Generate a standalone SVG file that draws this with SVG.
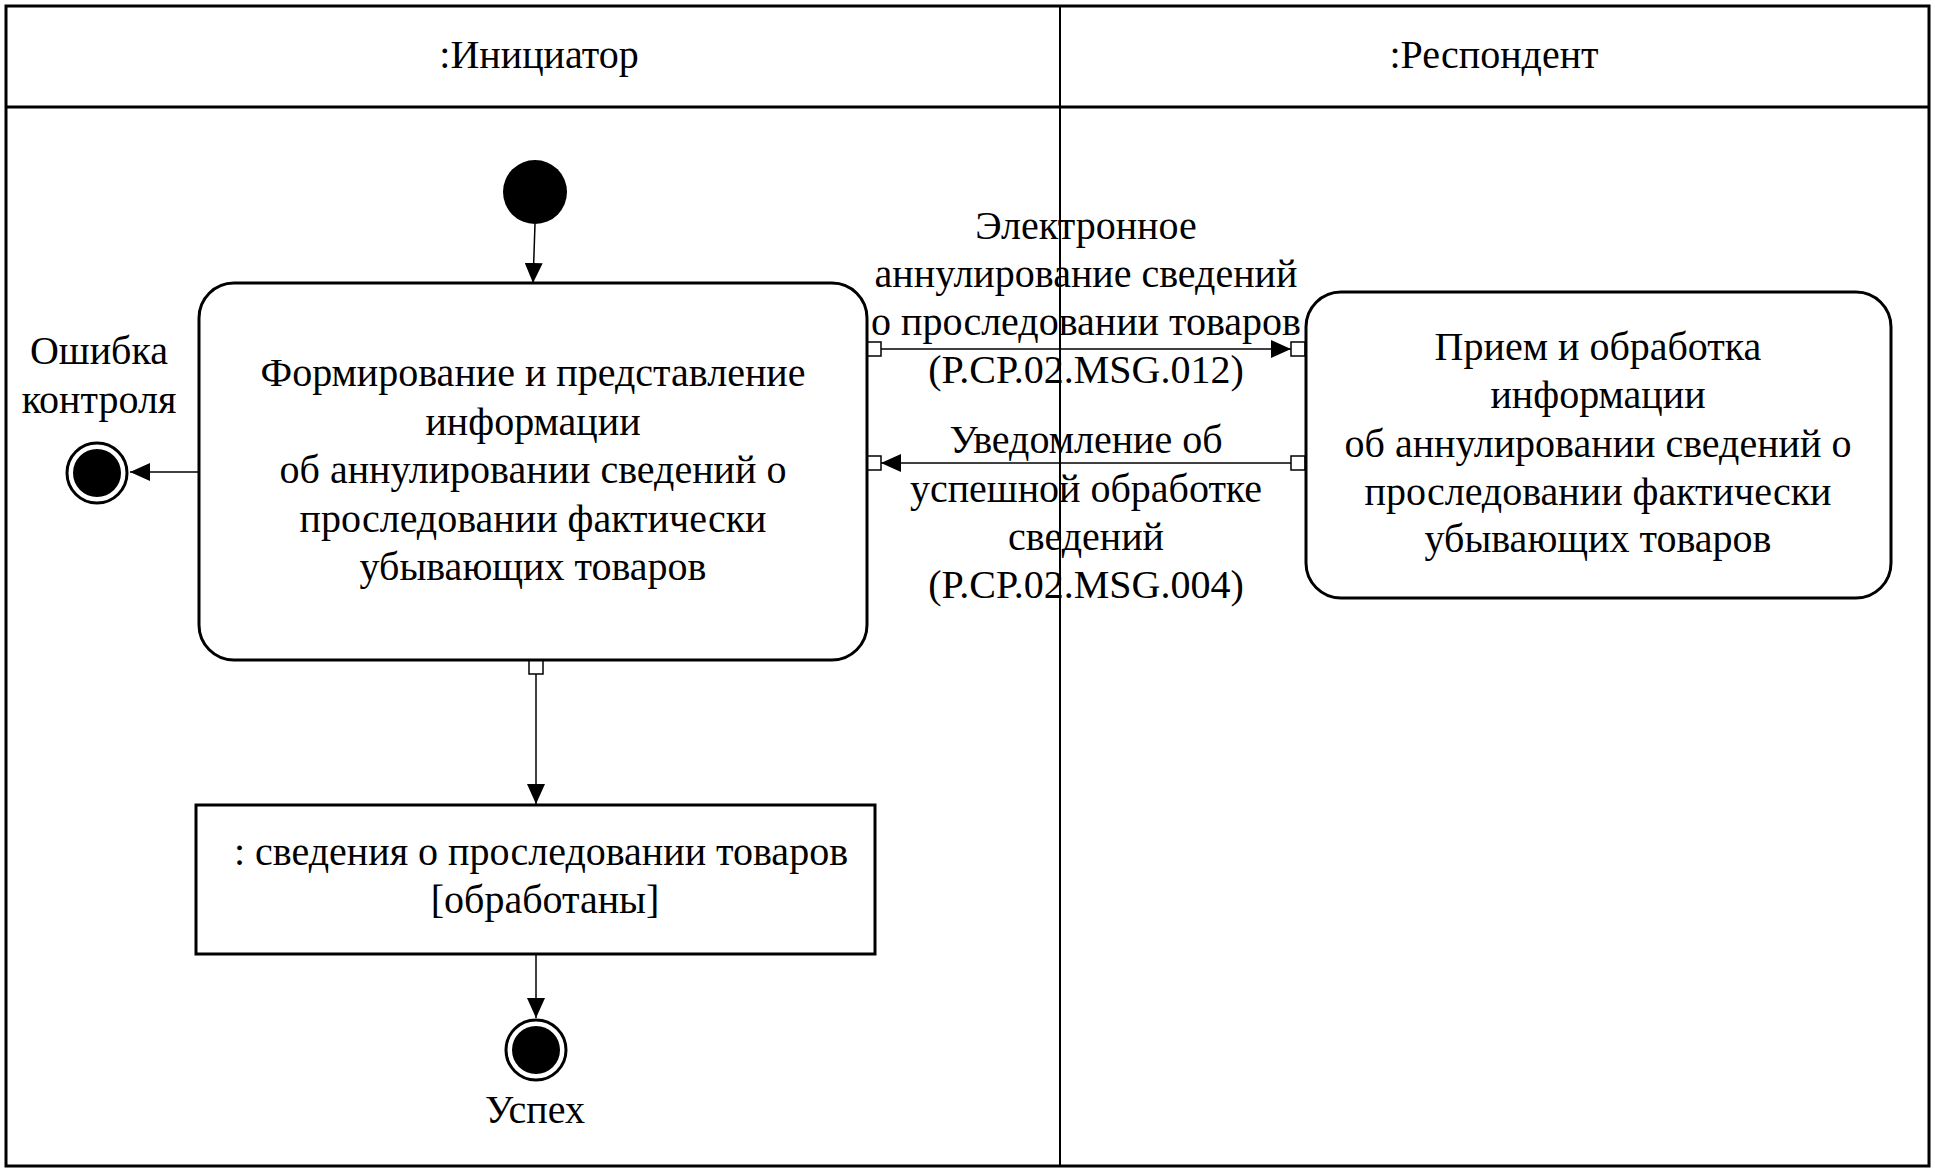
<svg xmlns="http://www.w3.org/2000/svg" width="1935" height="1172" viewBox="0 0 1935 1172">
<defs>
<style>
.t{font-family:"Liberation Serif","Times New Roman","DejaVu Serif",serif;font-size:40px;fill:#000;text-anchor:middle}
.box{fill:#fff;stroke:#000;stroke-width:3}
.ln{fill:none;stroke:#000;stroke-width:1.5}
.pin{fill:#fff;stroke:#000;stroke-width:1.5}
.frame{fill:none;stroke:#000;stroke-width:3}
</style>
<marker id="arr" viewBox="0 0 20 18" refX="20" refY="9" markerWidth="20" markerHeight="18" markerUnits="userSpaceOnUse" orient="auto">
<path d="M0,0 L20,9 L0,18 z" fill="#000"/>
</marker>
</defs>
<rect width="1935" height="1172" fill="#fff"/>
<g id="swimlanes">
<rect class="frame" x="6" y="6" width="1923" height="1160"/>
<line x1="6" y1="107" x2="1929" y2="107" stroke="#000" stroke-width="3"/>
<line x1="1060" y1="6" x2="1060" y2="1166" stroke="#000" stroke-width="2"/>
<text class="t" x="539" y="68">:Инициатор</text>
<text class="t" x="1494" y="68">:Респондент</text>
</g>
<g id="connectors">
<line class="ln" x1="535" y1="224" x2="533" y2="283" marker-end="url(#arr)"/>
<line class="ln" x1="198" y1="472" x2="130" y2="472" marker-end="url(#arr)"/>
<line class="ln" x1="881" y1="349" x2="1291" y2="349" marker-end="url(#arr)"/>
<line class="ln" x1="1291" y1="463" x2="881" y2="463" marker-end="url(#arr)"/>
<line class="ln" x1="536" y1="674" x2="536" y2="804" marker-end="url(#arr)"/>
<line class="ln" x1="536" y1="954" x2="536" y2="1018" marker-end="url(#arr)"/>
<rect class="pin" x="867" y="342" width="14" height="14"/>
<rect class="pin" x="1291" y="342" width="14" height="14"/>
<rect class="pin" x="1291" y="456" width="14" height="14"/>
<rect class="pin" x="867" y="456" width="14" height="14"/>
<rect class="pin" x="529" y="660" width="14" height="14"/>
<g id="msg1-label">
<text class="t" x="1086" y="239">Электронное</text>
<text class="t" x="1086" y="287">аннулирование сведений</text>
<text class="t" x="1086" y="335">о проследовании товаров</text>
<text class="t" x="1086" y="383">(P.CP.02.MSG.012)</text>
</g>
<g id="msg2-label">
<text class="t" x="1086" y="453">Уведомление об</text>
<text class="t" x="1086" y="502">успешной обработке</text>
<text class="t" x="1086" y="550">сведений</text>
<text class="t" x="1086" y="598">(P.CP.02.MSG.004)</text>
</g>
</g>
<g id="start">
<circle cx="535" cy="192" r="32" fill="#000"/>
</g>
<g id="form-info">
<rect class="box" x="199" y="283" width="668" height="377" rx="35"/>
<text class="t" x="533" y="386">Формирование и представление</text>
<text class="t" x="533" y="435">информации</text>
<text class="t" x="533" y="483">об аннулировании сведений о</text>
<text class="t" x="533" y="532">проследовании фактически</text>
<text class="t" x="533" y="580">убывающих товаров</text>
</g>
<g id="error-end">
<circle cx="97" cy="473" r="30" fill="#fff" stroke="#000" stroke-width="3"/>
<circle cx="97" cy="473" r="24" fill="#000"/>
<text class="t" x="99" y="364">Ошибка</text>
<text class="t" x="99" y="413">контроля</text>
</g>
<g id="receive-info">
<rect class="box" x="1306" y="292" width="585" height="306" rx="35"/>
<text class="t" x="1598" y="360">Прием и обработка</text>
<text class="t" x="1598" y="408">информации</text>
<text class="t" x="1598" y="457">об аннулировании сведений о</text>
<text class="t" x="1598" y="505">проследовании фактически</text>
<text class="t" x="1598" y="552">убывающих товаров</text>
</g>
<g id="object">
<rect class="box" x="196" y="805" width="679" height="149"/>
<text class="t" x="541" y="865">: сведения о проследовании товаров</text>
<text class="t" x="545" y="913">[обработаны]</text>
</g>
<g id="success-end">
<circle cx="536" cy="1050" r="30" fill="#fff" stroke="#000" stroke-width="3"/>
<circle cx="536" cy="1050" r="24" fill="#000"/>
<text class="t" x="535" y="1123">Успех</text>
</g>
</svg>
